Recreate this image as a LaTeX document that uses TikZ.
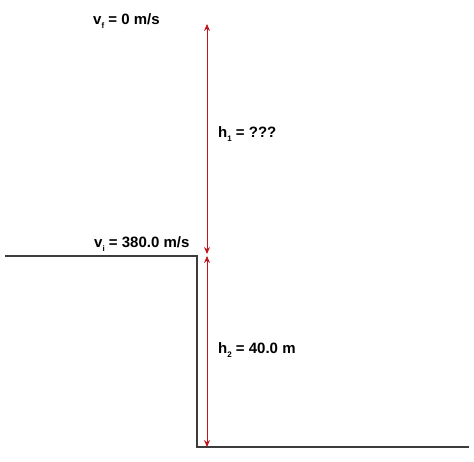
\documentclass[tikz,border=0pt]{standalone}
\usepackage{fontspec}
\setmainfont{Liberation Sans}
\usetikzlibrary{arrows.meta}
\definecolor{arrred}{HTML}{C0141E}
\definecolor{cliffgray}{HTML}{3C3C3C}
\newcommand{\mysub}[1]{\raisebox{-0.4ex}{\fontsize{8}{9}\selectfont #1}}
\begin{document}
\begin{tikzpicture}[x=1pt,y=-1pt,
  lbl/.style={font=\bfseries\fontsize{15}{17}\selectfont, inner sep=0pt, anchor=base west},
  cliff/.style={draw=cliffgray, line width=1.1pt},
  dim/.style={draw=arrred, line width=1pt, {Stealth[length=7pt,width=6pt]}-{Stealth[length=7pt,width=6pt]}}]
\useasboundingbox (0,0) rectangle (474,462);
\coordinate (c1) at (5,256);
\coordinate (c2) at (197,256);
\coordinate (c3) at (197,447);
\coordinate (c4) at (469,447);
\draw[cliff] (c1) -- (c2) -- (c3) -- (c4);
\coordinate (a1) at (207,24);
\coordinate (a2) at (207,254);
\coordinate (b1) at (207,256);
\coordinate (b2) at (207,447);
\draw[dim] (a1) -- (a2);
\draw[dim] (b1) -- (b2);
\node[lbl] (vf) at (93,25) {v\mysub{f} = 0 m/s};
\node[lbl] (h1) at (218,138) {h\mysub{1} = ???};
\node[lbl] (vi) at (94,248) {v\mysub{i} = 380.0 m/s};
\node[lbl] (h2) at (218,354) {h\mysub{2} = 40.0 m};
\end{tikzpicture}
\end{document}
